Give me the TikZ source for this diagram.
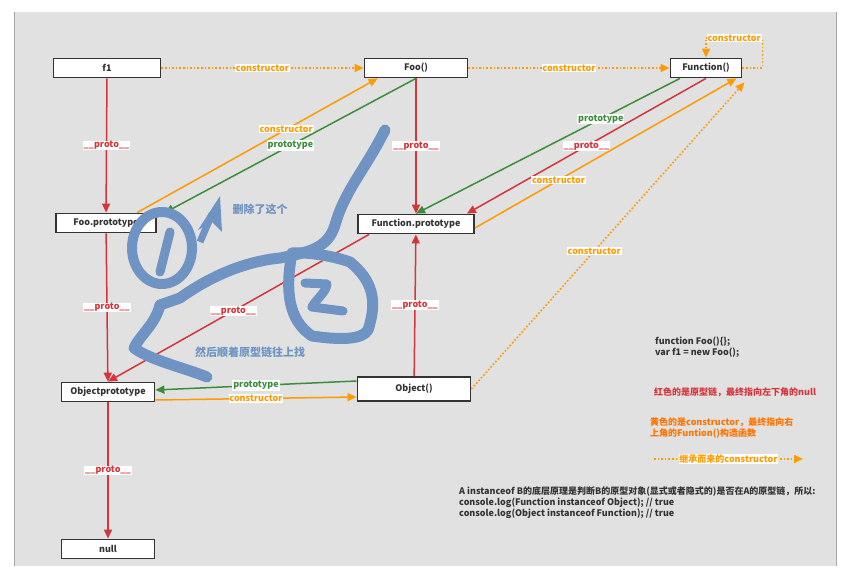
\documentclass[tikz,border=0pt]{standalone}
\usepackage{fontspec}
\setmainfont{Noto Sans CJK SC}
\usetikzlibrary{arrows.meta}
\definecolor{bg}{HTML}{E1E1E1}
\definecolor{rd}{HTML}{D5343A}
\definecolor{gr}{HTML}{3A8E3A}
\definecolor{org}{HTML}{FF9A00}
\definecolor{bl}{HTML}{6F93C2}
\definecolor{tx}{HTML}{333333}
\tikzset{
 box/.style={draw=tx,line width=1.8pt,fill=white,minimum height=19pt,inner sep=0pt,font=\fontsize{9}{9}\selectfont\bfseries,text=tx},
 lab/.style={fill=white,inner sep=0.8pt,font=\fontsize{9}{9}\selectfont\bfseries},
 red/.style={draw=rd,line width=1.5pt,-{Triangle[length=9pt,width=8pt]}},
 grn/.style={draw=gr,line width=1.5pt,-{Triangle[length=9pt,width=8pt]}},
 org/.style={draw=org,line width=1.5pt,-{Triangle[length=9pt,width=8pt]}},
 dot/.style={draw=org,line width=1.6pt,dotted,-{Triangle[length=9pt,width=8pt]}},
 scr/.style={draw=bl,line width=11pt,line cap=round,line join=round},
 note/.style={anchor=west,align=left,font=\fontsize{9}{11}\selectfont\bfseries,inner sep=0pt}
}
\begin{document}
\begin{tikzpicture}[x=1pt,y=-1pt]
\useasboundingbox (0,0) rectangle (845,572);
\fill[white] (0,0) rectangle (845,572);
\fill[bg] (14,12) rectangle (836,566);
\draw[gray!70,line width=0.8pt] (14,12) -- (14,566) (836,12) -- (836,566);
\node[box,minimum width=107pt] (f1) at (107,68) {f1};
\node[box,minimum width=103pt] (foo) at (416,68) {Foo()};
\node[box,minimum width=71pt] (fn) at (706,68) {Function()};
\node[box,minimum width=100pt] (foop) at (106,223) {Foo.prototype};
\node[box,minimum width=116pt] (fnp) at (416,224) {Function.prototype};
\node[box,minimum width=93pt] (objp) at (108,392) {Objectprototype};
\node[box,minimum width=113pt,minimum height=24pt] (obj) at (414,389) {Object()};
\node[box,minimum width=93pt] (null) at (108,549) {null};
% proto chains
\draw[red] (f1) -- node[lab,text=rd,pos=0.5]{\_\_proto\_\_} (foop);
\draw[red] (foo) -- node[lab,text=rd,pos=0.5]{\_\_proto\_\_} (fnp);
\draw[red] (foop) -- node[lab,text=rd,pos=0.5]{\_\_proto\_\_} (objp);
\draw[red] (obj) -- node[lab,text=rd,pos=0.5]{\_\_proto\_\_} (fnp);
\draw[red] (objp) -- node[lab,text=rd,pos=0.5]{\_\_proto\_\_} (null);
\draw[red] ([xshift=12pt]fnp.south west) -- node[lab,text=rd,pos=0.52]{\_\_proto\_\_} (objp.north);
\draw[red] (fn.south) -- node[lab,text=rd,pos=0.5]{\_\_proto\_\_} ([xshift=-8pt]fnp.north east);
% constructors dotted
\draw[dot] (f1) -- node[lab,text=org]{constructor} (foo);
\draw[dot] (foo) -- node[lab,text=org]{constructor} (fn);
\draw[dot] (fn.east) -- ++(20,0) |- (706,38) node[lab,text=org,pos=0.75]{constructor} -- (fn.north);
\draw[dot] (obj.east) -- node[lab,text=org,pos=0.45]{constructor} ([xshift=2pt,yshift=-4pt]fn.south east);
% solid
\draw[org] ([xshift=82pt]foop.north west) -- node[lab,text=org,pos=0.62]{constructor} ([xshift=14pt]foo.south west);
\draw[grn] (foo.south) -- node[lab,text=gr,pos=0.5]{prototype} ([xshift=8pt]foop.north east);
\draw[grn] ([xshift=-26pt]fn.south) -- node[lab,text=gr,pos=0.3]{prototype} (fnp.north);
\draw[org] ([yshift=-4pt]fnp.east) -- node[lab,text=org,pos=0.32]{constructor} ([xshift=-6pt]fn.south east);
\draw[grn] ([yshift=8pt]obj.west) -- node[lab,text=gr]{prototype} ([yshift=2pt]objp.east);
\draw[org] ([yshift=-8pt]objp.east) -- node[lab,text=org]{constructor} ([yshift=-8pt]obj.west);
% notes
\node[note,text=tx] (n1) at (655,347) {function Foo()\{\};\\var f1 = new Foo();};
\node[note,text=rd] (n2) at (654,392) {红色的是原型链，最终指向左下角的null};
\node[note,text=orange!90!red] (n3) at (650,428) {黄色的是constructor，最终指向右\\上角的Funtion()构造函数};
\coordinate (l1) at (654,459);
\coordinate (l2) at (803,459);
\draw[dot] (l1) -- node[lab,text=org]{继承而来的constructor} (l2);
\node[note,text=tx] (n4) at (459,503) {A instanceof B的底层原理是判断B的原型对象(显式或者隐式的)是否在A的原型链，所以:\\console.log(Function instanceof Object); // true\\console.log(Object instanceof Function); // true};
% scribbles
\draw[scr] (385,130) .. controls (365,170) and (345,190) .. (335,225) .. controls (328,248) and (310,252) .. (280,258) .. controls (240,262) and (205,280) .. (180,298) -- (160,305);
\draw[scr] (160,305) .. controls (155,325) and (140,335) .. (134,348) .. controls (150,360) and (185,368) .. (207,377);
\draw[scr] (292,253) .. controls (285,290) and (288,320) .. (312,336) .. controls (340,340) and (362,340) .. (368,330) .. controls (378,300) and (372,280) .. (350,262) .. controls (330,255) and (305,252) .. (292,253);
\draw[scr,line width=9pt] (305,283) -- (327,284) .. controls (326,293) and (315,300) .. (312,307) -- (343,311);
\draw[scr,line width=10pt] (162,248) ellipse (30 and 36);
\draw[scr,line width=9pt] (170,232) -- (160,272);
\draw[scr,line width=7pt,line cap=butt] (200,242) -- (212,214);
\fill[bl] (220,196) -- (222,232) -- (212,222) -- (198,230) -- cycle;
\node[font=\fontsize{11}{11}\selectfont\bfseries,text=bl] (t1) at (260,209) {删除了这个};
\node[font=\fontsize{11}{11}\selectfont\bfseries,text=bl] (t2) at (250,352) {然后顺着原型链往上找};
\end{tikzpicture}
\end{document}
